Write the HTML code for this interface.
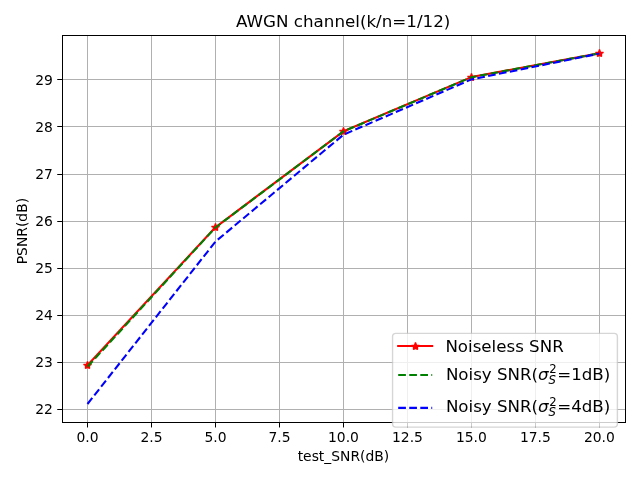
<!DOCTYPE html>
<html lang="en"><head><meta charset="utf-8"><title>AWGN channel(k/n=1/12)</title>
<style>html,body{margin:0;padding:0;background:#fff;overflow:hidden}svg{display:block}text{font-family:'DejaVu Sans', 'Liberation Sans', sans-serif;fill:#000}</style>
</head><body>
<svg width="640" height="480" viewBox="0 0 640 480">
<defs><clipPath id="axclip"><rect x="61.90" y="35.50" width="563.10" height="386.08"/></clipPath>
<path id="star" d="M0 -4 L-1 -1 L-4 -1 L-2 0 L-2 3 L0 2 L2 3 L2 0 L4 -1 L1 -1Z"/></defs>
<rect x="0" y="0" width="640" height="480" fill="#ffffff"/>
<g fill="#b0b0b0" shape-rendering="crispEdges">
<rect x="87" y="35" width="1" height="388"/>
<rect x="151" y="35" width="1" height="388"/>
<rect x="215" y="35" width="1" height="388"/>
<rect x="279" y="35" width="1" height="388"/>
<rect x="343" y="35" width="1" height="388"/>
<rect x="407" y="35" width="1" height="388"/>
<rect x="471" y="35" width="1" height="388"/>
<rect x="535" y="35" width="1" height="388"/>
<rect x="599" y="35" width="1" height="388"/>
<rect x="62" y="409" width="564" height="1"/>
<rect x="62" y="362" width="564" height="1"/>
<rect x="62" y="315" width="564" height="1"/>
<rect x="62" y="268" width="564" height="1"/>
<rect x="62" y="221" width="564" height="1"/>
<rect x="62" y="174" width="564" height="1"/>
<rect x="62" y="126" width="564" height="1"/>
<rect x="62" y="79" width="564" height="1"/>
</g>
<g fill="#000000">
<rect x="87" y="422" width="1" height="5.46"/>
<rect x="151" y="422" width="1" height="5.46"/>
<rect x="215" y="422" width="1" height="5.46"/>
<rect x="279" y="422" width="1" height="5.46"/>
<rect x="343" y="422" width="1" height="5.46"/>
<rect x="407" y="422" width="1" height="5.46"/>
<rect x="471" y="422" width="1" height="5.46"/>
<rect x="535" y="422" width="1" height="5.46"/>
<rect x="599" y="422" width="1" height="5.46"/>
<rect x="57.24" y="409" width="4.86" height="1"/>
<rect x="57.24" y="362" width="4.86" height="1"/>
<rect x="57.24" y="315" width="4.86" height="1"/>
<rect x="57.24" y="268" width="4.86" height="1"/>
<rect x="57.24" y="221" width="4.86" height="1"/>
<rect x="57.24" y="174" width="4.86" height="1"/>
<rect x="57.24" y="126" width="4.86" height="1"/>
<rect x="57.24" y="79" width="4.86" height="1"/>
</g>
<g font-size="13.889">
<text x="87.50" y="442.25" text-anchor="middle">0.0</text>
<text x="151.48" y="442.25" text-anchor="middle">2.5</text>
<text x="215.47" y="442.25" text-anchor="middle">5.0</text>
<text x="279.46" y="442.25" text-anchor="middle">7.5</text>
<text x="343.45" y="442.25" text-anchor="middle">10.0</text>
<text x="407.44" y="442.25" text-anchor="middle">12.5</text>
<text x="471.43" y="442.25" text-anchor="middle">15.0</text>
<text x="535.42" y="442.25" text-anchor="middle">17.5</text>
<text x="599.40" y="442.25" text-anchor="middle">20.0</text>
<text x="52.88" y="414.48" text-anchor="end">22</text>
<text x="52.88" y="367.34" text-anchor="end">23</text>
<text x="52.88" y="320.20" text-anchor="end">24</text>
<text x="52.88" y="273.06" text-anchor="end">25</text>
<text x="52.88" y="225.92" text-anchor="end">26</text>
<text x="52.88" y="178.78" text-anchor="end">27</text>
<text x="52.88" y="131.64" text-anchor="end">28</text>
<text x="52.88" y="84.50" text-anchor="end">29</text>
<text x="343.45" y="461.35" text-anchor="middle">test_SNR(dB)</text>
<text transform="translate(26.66 231.10) rotate(-90)" text-anchor="middle">PSNR(dB)</text>
</g>
<g clip-path="url(#axclip)" fill="none" stroke-linejoin="round">
<path d="M87.49 365.30 L215.47 227.30 L343.45 131.30 L471.43 77.10 L599.40 53.30" stroke="#ff0000" stroke-width="2.083" stroke-linecap="square"/>
<g fill="#ff0000" stroke="#ff0000" stroke-width="1.389" stroke-linejoin="bevel">
<use href="#star" x="87.5" y="365.5"/>
<use href="#star" x="215.5" y="227.5"/>
<use href="#star" x="343.5" y="131.5"/>
<use href="#star" x="471.5" y="77.5"/>
<use href="#star" x="599.5" y="53.5"/>
</g>
<path d="M87.49 366.70 L215.47 227.50 L343.45 131.40 L471.43 77.20 L599.40 53.30" stroke="#008000" stroke-width="2.083" stroke-dasharray="7.708,3.333"/>
<path d="M87.49 404.00 L215.47 241.60 L343.45 134.70 L471.43 79.40 L599.40 53.60" stroke="#0000ff" stroke-width="2.083" stroke-dasharray="7.708,3.333"/>
</g>
<g fill="#000000" shape-rendering="crispEdges">
<rect x="62" y="35" width="1" height="388"/>
<rect x="625" y="35" width="1" height="388"/>
<rect x="62" y="35" width="564" height="1"/>
<rect x="62" y="422" width="564" height="1"/>
</g>
<text transform="translate(343.15 26.90) scale(1.003 0.910)" font-size="16.667" text-anchor="middle">AWGN channel(k/n=1/12)</text>
<path d="M395.88 427.15 L614.07 427.15 Q617.40 427.15 617.40 423.82 L617.40 336.66 Q617.40 333.33 614.07 333.33 L395.88 333.33 Q392.55 333.33 392.55 336.66 L392.55 423.82 Q392.55 427.15 395.88 427.15 Z" fill="#ffffff" stroke="#cccccc" stroke-width="1.389" opacity="0.8"/>
<path d="M398.20 345.94 L432.20 345.94" stroke="#ff0000" stroke-width="2.083" stroke-linecap="square" fill="none"/>
<use href="#star" x="415.50" y="346.50" fill="#ff0000" stroke="#ff0000" stroke-width="1.389" stroke-linejoin="bevel"/>
<path d="M398.20 375.00 L432.20 375.00" stroke="#008000" stroke-width="2.083" stroke-dasharray="7.708,3.333" fill="none"/>
<path d="M398.20 407.85 L432.20 407.85" stroke="#0000ff" stroke-width="2.083" stroke-dasharray="7.708,3.333" fill="none"/>
<g font-size="16.667">
<text x="445.40" y="351.80">Noiseless SNR</text>
<text y="379.50"><tspan x="445.90">Noisy SNR(</tspan><tspan x="538.05" font-style="oblique">σ</tspan><tspan x="549.26" y="373.30" font-size="11.667">2</tspan><tspan x="548.51" y="383.90" font-size="11.667" font-style="oblique">S</tspan><tspan x="557.23" y="379.50">=1dB)</tspan></text>
<text y="412.00"><tspan x="445.90">Noisy SNR(</tspan><tspan x="538.05" font-style="oblique">σ</tspan><tspan x="549.26" y="405.80" font-size="11.667">2</tspan><tspan x="548.51" y="416.40" font-size="11.667" font-style="oblique">S</tspan><tspan x="557.23" y="412.00">=4dB)</tspan></text>
</g>
</svg></body></html>
